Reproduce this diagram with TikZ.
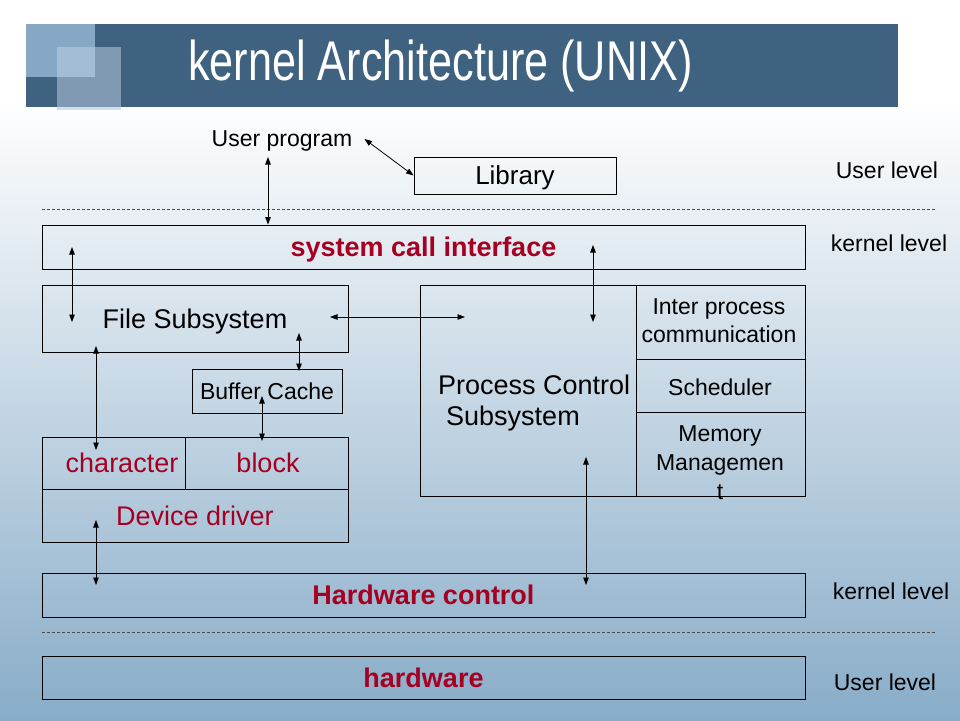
\documentclass[tikz,border=0pt]{standalone}
\usepackage{fontspec}
\setmainfont{Liberation Sans}
\usetikzlibrary{arrows.meta}
\definecolor{kred}{RGB}{165,0,33}
\definecolor{bardark}{RGB}{62,98,128}
\definecolor{sqlight}{RGB}{135,168,196}
\definecolor{sqmid}{RGB}{127,154,178}
\definecolor{sqover}{RGB}{163,190,212}
\definecolor{bgbot}{RGB}{136,172,200}
\newcommand\szBig{\fontsize{27}{31}\selectfont}
\newcommand\szMid{\fontsize{26}{30}\selectfont}
\newcommand\szSmall{\fontsize{23}{28}\selectfont}

\begin{document}
\begin{tikzpicture}[x=1pt, y=-1pt,
  box/.style={draw=black, line width=0.9pt, inner sep=0pt, text depth=0pt},
  plain/.style={font=\szSmall, inner sep=0pt},
  redbold/.style={text=kred, font=\szBig\bfseries},
  redtext/.style={text=kred, font=\szBig, inner sep=0pt},
  link/.style={line width=0.8pt, {Triangle[length=7.5pt,width=5.5pt]}-{Triangle[length=7.5pt,width=5.5pt]}},
  sep/.style={line width=0.7pt, black!70, dash pattern=on 3pt off 2pt}]
		%%%%% START %%%%%
		\useasboundingbox (0,0) rectangle (960,720);
		
		% background and title bar
		\fill[white] (0,0) rectangle (960,100);
		\shade[top color=white, bottom color=bgbot] (0,100) rectangle (960,720);
		\fill[bardark] (26,24) rectangle (898,107);
		\fill[sqlight] (26,24) rectangle (95,77);
		\fill[sqmid] (57,47) rectangle (121,107);
		\fill[sqover] (57,47) rectangle (95,77);
		\fill[sqover!50!white] (57,107) rectangle (121,110);
		\node[anchor=base west, text=white, xscale=0.772, inner sep=0pt,
		      font=\fontsize{56}{60}\selectfont] (title) at (188,80) {kernel Architecture (UNIX)};
		
		% user level
		\node[plain, text depth=0pt] (uprog) at (282,139) {User program};
		\node[box, font=\szMid, minimum width=202pt, minimum height=37pt] (lib) at (515,175.5) {Library};
		\node[plain] (ulev1) at (887,170) {User level};
		\node[plain] (klev1) at (889,243) {kernel level};
		\draw[sep] (42,209) -- (935,209);
		
		% kernel
		\node[box, redbold, minimum width=763pt, minimum height=44pt] (sci) at (423.5,247) {system call interface};
		\node[box, font=\szBig, minimum width=306pt, minimum height=67pt] (fs) at (195,318.5) {File Subsystem};
		\node[box, font=\szSmall, minimum width=150pt, minimum height=44pt] (buf) at (267,391) {Buffer Cache};
		
		\node[box, minimum width=143pt, minimum height=52pt] (chr) at (113.5,463) {};
		\node[box, minimum width=163pt, minimum height=52pt] (blk) at (266.5,463) {};
		\node[box, minimum width=306pt, minimum height=53pt] (drv) at (195,515.5) {};
		\node[redtext] (chrtxt) at (122,463) {character};
		\node[redtext] (blktxt) at (268,463) {block};
		\node[redtext] (drvtxt) at (195,516) {Device driver};
		
		\node[box, minimum width=385pt, minimum height=211pt] (pc) at (612.5,390.5) {};
		\node[box, minimum width=169pt, minimum height=74pt] (ipc) at (720.5,322) {};
		\node[box, minimum width=169pt, minimum height=53pt] (sch) at (720.5,385.5) {};
		\node[box, minimum width=169pt, minimum height=84pt] (mem) at (720.5,454) {};
		\node[font=\szBig, align=left, anchor=base west, inner sep=0pt] (pctxt) at (438,425)
		      {Process Control\\\hspace{8pt}Subsystem};
		\node[plain, align=center] (ipctxt) at (719,320.5) {Inter process\\communication};
		\node[plain] (schtxt) at (720,387.5) {Scheduler};
		\node[plain, align=center, font=\fontsize{23}{29}\selectfont] (memtxt) at (720,462.5) {Memory\\Managemen\\t};
		
		\node[box, redbold, minimum width=763pt, minimum height=44pt] (hwc) at (423.5,595) {Hardware control};
		\node[plain] (klev2) at (891,591) {kernel level};
		\draw[sep] (42,632) -- (935,632);
		\node[box, redbold, minimum width=763pt, minimum height=43pt] (hw) at (423.5,677.5) {hardware};
		\node[plain] (ulev2) at (885,682) {User level};
		
		% arrows
		\coordinate (upa) at (268,157);
		\coordinate (sca) at (72,247);
		\coordinate (fsa) at (72,322);
		\coordinate (scb) at (593,245);
		\coordinate (pca) at (593,322);
		\coordinate (fsb) at (330,317);
		\coordinate (pcb) at (465,317);
		\coordinate (fsc) at (299,333);
		\coordinate (bfa) at (299,371);
		\coordinate (bfb) at (262,396);
		\coordinate (bka) at (262,441);
		\coordinate (fsd) at (96,346);
		\coordinate (cha) at (96,450);
		\coordinate (dra) at (96,520);
		\coordinate (hwa) at (96,585);
		\coordinate (pcc) at (586,457);
		\coordinate (hwb) at (586,585);
		
		\draw[link] ([shift={(12,0)}]uprog.east) -- (lib.west);
		\draw[link] (upa) -- (upa |- sci.north);
		\draw[link] (sca) -- (fsa);
		\draw[link] (scb) -- (pca);
		\draw[link] (fsb) -- (pcb);
		\draw[link] (fsc) -- (bfa);
		\draw[link] (bfb) -- (bka);
		\draw[link] (fsd) -- (cha);
		\draw[link] (dra) -- (hwa);
		\draw[link] (pcc) -- (hwb);
		
		%%%%% END %%%%%
\end{tikzpicture}
\end{document}
